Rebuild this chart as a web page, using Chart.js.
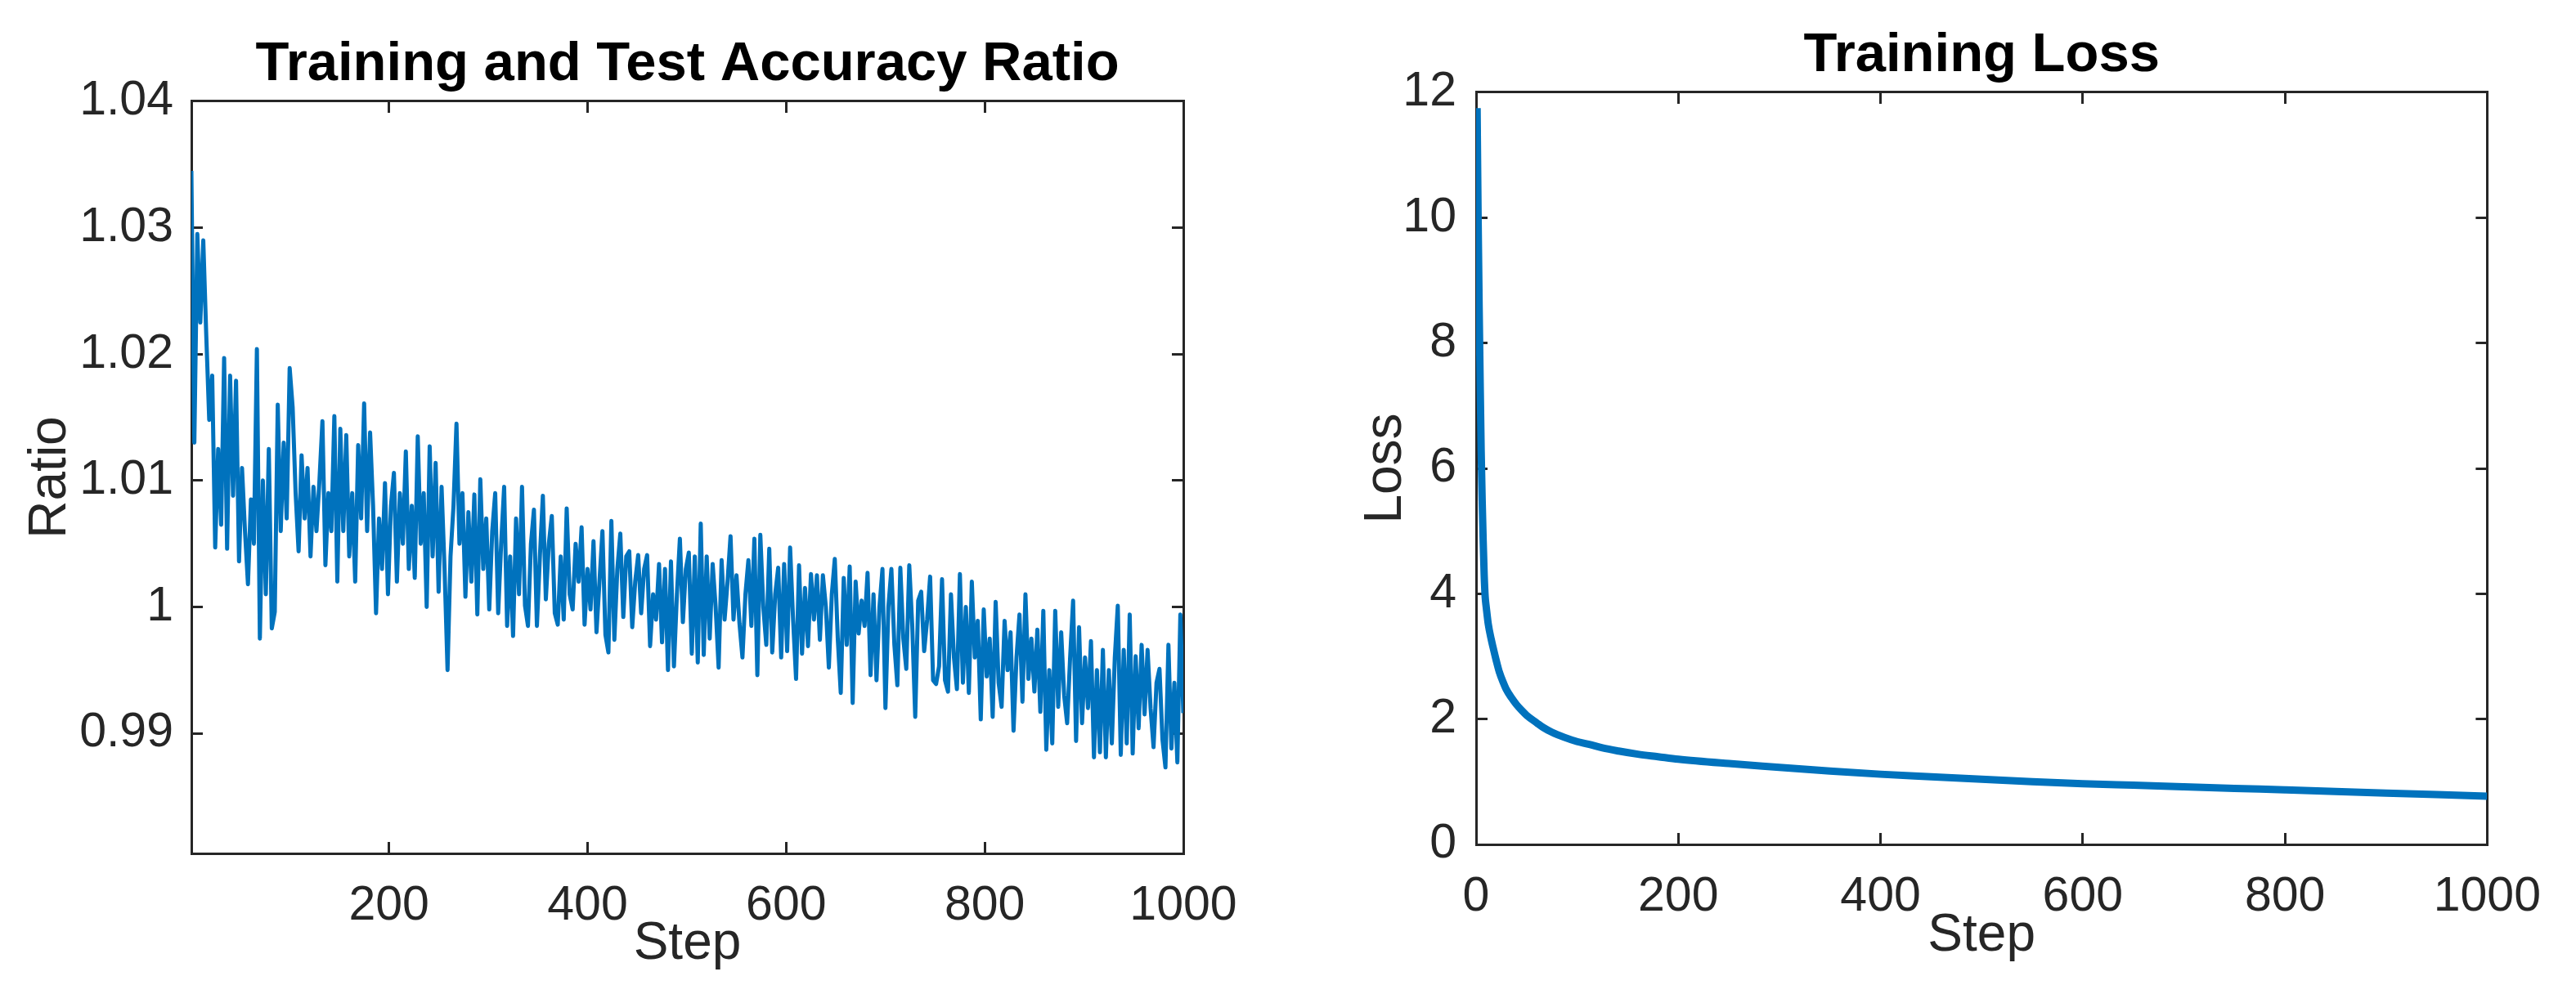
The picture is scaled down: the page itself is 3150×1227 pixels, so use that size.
<!DOCTYPE html>
<html>
<head>
<meta charset="utf-8">
<title>Training and Test Accuracy Ratio / Training Loss</title>
<script src="https://cdn.jsdelivr.net/npm/chart.js@4.4.1/dist/chart.umd.min.js"></script>
<style>
  html, body { margin: 0; padding: 0; background: #fff; }
  #wrap { position: relative; width: 3150px; height: 1227px; }
  canvas { position: absolute; top: 0; }
  #ratioChart { left: 0; }
  #lossChart { left: 1575px; }
</style>
</head>
<body>
<div id="wrap">
  <canvas id="ratioChart" width="1575" height="1227"></canvas>
  <canvas id="lossChart" width="1575" height="1227"></canvas>
</div>
<script>
const FONT = "'Liberation Sans', Arial, Helvetica, sans-serif";
const AXIS_COLOR = '#262626';
const LINE_COLOR = '#0072BD';

const ratioSteps = [
  1, 4, 7, 10, 13, 16, 19, 22, 25, 28,
  31, 34, 37, 40, 43, 46, 49, 52, 55, 58,
  61, 64, 67, 70, 73, 76, 79, 82, 85, 88,
  91, 94, 97, 100, 103, 106, 109, 112, 115, 118,
  121, 124, 127, 130, 133, 136, 139, 142, 145, 148,
  151, 154, 157, 160, 163, 166, 169, 172, 175, 178,
  181, 184, 187, 190, 193, 196, 199, 202, 205, 208,
  211, 214, 217, 220, 223, 226, 229, 232, 235, 238,
  241, 244, 247, 250, 253, 256, 259, 262, 265, 268,
  271, 274, 277, 280, 283, 286, 289, 292, 295, 298,
  301, 304, 307, 310, 313, 316, 319, 322, 325, 328,
  331, 334, 337, 340, 343, 346, 349, 352, 355, 358,
  361, 364, 367, 370, 373, 376, 379, 382, 385, 388,
  391, 394, 397, 400, 403, 406, 409, 412, 415, 418,
  421, 424, 427, 430, 433, 436, 439, 442, 445, 448,
  451, 454, 457, 460, 463, 466, 469, 472, 475, 478,
  481, 484, 487, 490, 493, 496, 499, 502, 505, 508,
  511, 514, 517, 520, 523, 526, 529, 532, 535, 538,
  541, 544, 547, 550, 553, 556, 559, 562, 565, 568,
  571, 574, 577, 580, 583, 586, 589, 592, 595, 598,
  601, 604, 607, 610, 613, 616, 619, 622, 625, 628,
  631, 634, 637, 640, 643, 646, 649, 652, 655, 658,
  661, 664, 667, 670, 673, 676, 679, 682, 685, 688,
  691, 694, 697, 700, 703, 706, 709, 712, 715, 718,
  721, 724, 727, 730, 733, 736, 739, 742, 745, 748,
  751, 754, 757, 760, 763, 766, 769, 772, 775, 778,
  781, 784, 787, 790, 793, 796, 799, 802, 805, 808,
  811, 814, 817, 820, 823, 826, 829, 832, 835, 838,
  841, 844, 847, 850, 853, 856, 859, 862, 865, 868,
  871, 874, 877, 880, 883, 886, 889, 892, 895, 898,
  901, 904, 907, 910, 913, 916, 919, 922, 925, 928,
  931, 934, 937, 940, 943, 946, 949, 952, 955, 958,
  961, 964, 967, 970, 973, 976, 979, 982, 985, 988,
  991, 994, 997, 1000
];
const ratioValues = [
  1.0345, 1.0130, 1.0295, 1.0225, 1.0290, 1.0215, 1.0148, 1.0183, 1.0047, 1.0125,
  1.0065, 1.0197, 1.0046, 1.0183, 1.0088, 1.0179, 1.0036, 1.0110, 1.0060, 1.0018,
  1.0085, 1.0050, 1.0204, 0.9975, 1.0100, 1.0010, 1.0125, 0.9983, 0.9996, 1.0160,
  1.0060, 1.0130, 1.0070, 1.0189, 1.0158, 1.0090, 1.0044, 1.0120, 1.0070, 1.0110,
  1.0040, 1.0095, 1.0060, 1.0100, 1.0147, 1.0033, 1.0090, 1.0060, 1.0151, 1.0020,
  1.0141, 1.0060, 1.0136, 1.0040, 1.0090, 1.0020, 1.0128, 1.0070, 1.0161, 1.0060,
  1.0138, 1.0080, 0.9995, 1.0070, 1.0030, 1.0098, 1.0010, 1.0080, 1.0106, 1.0020,
  1.0090, 1.0050, 1.0123, 1.0030, 1.0080, 1.0023, 1.0135, 1.0050, 1.0090, 1.0000,
  1.0127, 1.0040, 1.0114, 1.0012, 1.0095, 1.0030, 0.9950, 1.0040, 1.0080, 1.0145,
  1.0050, 1.0090, 1.0008, 1.0075, 1.0020, 1.0089, 0.9994, 1.0101, 1.0030, 1.0070,
  0.9998, 1.0060, 1.0090, 0.9995, 1.0050, 1.0095, 0.9985, 1.0040, 0.9977, 1.0070,
  1.0010, 1.0095, 1.0001, 0.9985, 1.0050, 1.0077, 0.9985, 1.0040, 1.0088, 1.0006,
  1.0050, 1.0072, 0.9995, 0.9986, 1.0040, 0.9990, 1.0078, 1.0010, 0.9998, 1.0050,
  1.0020, 1.0063, 0.9986, 1.0030, 0.9998, 1.0052, 0.9980, 1.0020, 1.0060, 0.9978,
  0.9964, 1.0068, 0.9974, 1.0030, 1.0058, 0.9992, 1.0040, 1.0044, 0.9984, 1.0020,
  1.0041, 0.9995, 1.0030, 1.0041, 0.9969, 1.0010, 0.9990, 1.0034, 0.9972, 1.0030,
  0.9950, 1.0036, 0.9953, 1.0010, 1.0054, 0.9988, 1.0030, 1.0043, 0.9963, 1.0040,
  0.9956, 1.0066, 0.9962, 1.0040, 0.9975, 1.0034, 1.0000, 0.9952, 1.0037, 0.9990,
  1.0020, 1.0056, 0.9990, 1.0025, 0.9987, 0.9960, 1.0010, 1.0037, 0.9985, 1.0054,
  0.9946, 1.0057, 1.0000, 0.9970, 1.0046, 0.9964, 1.0010, 1.0031, 0.9960, 1.0034,
  0.9965, 1.0047, 0.9990, 0.9943, 1.0033, 0.9963, 1.0015, 0.9969, 1.0026, 0.9990,
  1.0025, 0.9974, 1.0025, 1.0000, 0.9952, 1.0010, 1.0038, 0.9975, 0.9932, 1.0023,
  0.9970, 1.0032, 0.9924, 1.0020, 0.9979, 1.0005, 0.9985, 1.0027, 0.9946, 1.0010,
  0.9942, 1.0000, 1.0030, 0.9920, 1.0000, 1.0030, 0.9970, 0.9938, 1.0031, 0.9975,
  0.9951, 1.0033, 0.9985, 0.9913, 1.0005, 1.0012, 0.9965, 0.9990, 1.0024, 0.9942,
  0.9939, 0.9953, 1.0022, 0.9942, 0.9933, 1.0010, 0.9960, 0.9935, 1.0026, 0.9940,
  1.0000, 0.9932, 1.0020, 0.9960, 0.9989, 0.9911, 0.9998, 0.9945, 0.9975, 0.9913,
  1.0004, 0.9940, 0.9921, 0.9989, 0.9950, 0.9980, 0.9902, 0.9960, 0.9994, 0.9925,
  1.0010, 0.9943, 0.9975, 0.9933, 0.9982, 0.9917, 0.9997, 0.9887, 0.9950, 0.9892,
  0.9997, 0.9921, 0.9980, 0.9930, 0.9908, 0.9960, 1.0005, 0.9894, 0.9984, 0.9908,
  0.9960, 0.9920, 0.9973, 0.9881, 0.9950, 0.9885, 0.9966, 0.9881, 0.9950, 0.9892,
  0.9960, 1.0001, 0.9883, 0.9966, 0.9892, 0.9994, 0.9884, 0.9961, 0.9904, 0.9970,
  0.9915, 0.9966, 0.9920, 0.9889, 0.9940, 0.9951, 0.9895, 0.9873, 0.9970, 0.9888,
  0.9940, 0.9877, 0.9994, 0.9916
];
const ratioXTicks = [200, 400, 600, 800, 1000];
const ratioXLabels = ['200', '400', '600', '800', '1000'];
const ratioYTicks = [0.99, 1.00, 1.01, 1.02, 1.03, 1.04];
const ratioYLabels = ['0.99', '1', '1.01', '1.02', '1.03', '1.04'];

// training loss, denser where it falls fast
const lossSteps = [
  1, 2, 3, 4, 5, 6, 7, 8, 9, 10, 11, 12, 15, 17, 20, 23, 27, 30, 35, 40, 45,
  50, 60, 66, 75, 87, 100, 111, 125, 141, 160, 180, 200, 250, 300, 350, 400,
  450, 500, 550, 600, 650, 700, 750, 800, 850, 900, 950, 1000
];
const lossValues = [
  11.75, 10.0, 8.6, 7.4, 6.3, 5.5, 4.85, 4.3, 3.95, 3.79, 3.65, 3.52, 3.27, 3.13, 2.93, 2.75, 2.58, 2.47, 2.34, 2.23, 2.14,
  2.06, 1.94, 1.87, 1.79, 1.71, 1.64, 1.60, 1.54, 1.49, 1.44, 1.40, 1.36, 1.29, 1.23, 1.17, 1.12,
  1.08, 1.04, 1.00, 0.97, 0.945, 0.92, 0.895, 0.87, 0.845, 0.82, 0.795, 0.77
];
const lossXTicks = [0, 200, 400, 600, 800, 1000];
const lossXLabels = ['0', '200', '400', '600', '800', '1000'];
const lossYTicks = [0, 2, 4, 6, 8, 10, 12];
const lossYLabels = ['0', '2', '4', '6', '8', '10', '12'];

function fixedTicks(values) {
  return scale => { scale.ticks = values.map(v => ({ value: v })); };
}

// MATLAB style box: inward ticks on all four sides, labels only bottom/left
function boxScales(c) {
  const grid = { drawOnChartArea: false, drawTicks: true, tickLength: -14, tickWidth: 3, tickColor: AXIS_COLOR };
  const border = { display: true, color: AXIS_COLOR, width: 3 };
  const tickFont = { family: FONT, size: 59 };
  const titleFont = { family: FONT, size: 64 };
  const hidden = { display: false };
  return {
    x: {
      type: 'linear', position: 'bottom', bounds: 'data', min: c.xMin, max: c.xMax,
      afterBuildTicks: fixedTicks(c.xTicks),
      afterFit: s => { s.height = c.xHeight; },
      grid: grid, border: border,
      ticks: { font: tickFont, color: AXIS_COLOR, padding: 43, maxRotation: 0, autoSkip: false,
               callback: (v, i) => c.xLabels[i] },
      title: { display: true, text: 'Step', font: titleFont, color: AXIS_COLOR,
               padding: { top: 0, bottom: c.xTitlePad } }
    },
    x2: {
      type: 'linear', position: 'top', bounds: 'data', min: c.xMin, max: c.xMax,
      afterBuildTicks: fixedTicks(c.xTicks),
      afterFit: s => { s.height = c.topHeight; },
      grid: grid, border: border, ticks: hidden
    },
    y: {
      type: 'linear', position: 'left', bounds: 'data', min: c.yMin, max: c.yMax,
      afterBuildTicks: fixedTicks(c.yTicks),
      afterFit: s => { s.width = c.yWidth; },
      grid: grid, border: border,
      ticks: { font: tickFont, color: AXIS_COLOR, padding: c.yTickPad, autoSkip: false,
               callback: (v, i) => c.yLabels[i] },
      title: { display: true, text: c.yTitle, font: titleFont, color: AXIS_COLOR,
               padding: { top: c.yTitlePad, bottom: 0 } }
    },
    y2: {
      type: 'linear', position: 'right', bounds: 'data', min: c.yMin, max: c.yMax,
      afterBuildTicks: fixedTicks(c.yTicks),
      afterFit: s => { s.width = 0; },
      grid: grid, border: border, ticks: hidden
    }
  };
}

function makeChart(id, c) {
  return new Chart(document.getElementById(id), {
    type: 'line',
    data: {
      datasets: [{
        data: c.steps.map((s, i) => ({ x: s, y: c.values[i] })),
        borderColor: LINE_COLOR,
        borderWidth: c.lineWidth,
        borderJoinStyle: 'round',
        pointRadius: 0,
        fill: false,
        tension: 0,
        cubicInterpolationMode: c.smooth ? 'monotone' : 'default'
      }]
    },
    options: {
      responsive: false,
      devicePixelRatio: 1,
      animation: false,
      events: [],
      layout: { padding: { left: 0, right: c.rightPad, top: 0, bottom: 0 } },
      plugins: {
        legend: { display: false },
        tooltip: { enabled: false },
        title: {
          display: true, text: c.title, color: '#000', fullSize: false,
          font: { family: FONT, size: 67, weight: 'bold' },
          padding: { top: c.titleTop, bottom: 0 }
        }
      },
      scales: boxScales(c)
    }
  });
}

makeChart('ratioChart', {
  title: 'Training and Test Accuracy Ratio',
  steps: ratioSteps, values: ratioValues, lineWidth: 5, smooth: false,
  xMin: 1, xMax: 1000, xTicks: ratioXTicks, xLabels: ratioXLabels,
  yMin: 0.9805, yMax: 1.04, yTicks: ratioYTicks, yLabels: ratioYLabels, yTitle: 'Ratio',
  xHeight: 183, xTitlePad: 33.6, topHeight: 4.2, titleTop: 39.4,
  yWidth: 234, yTickPad: 36, yTitlePad: 23.6, rightPad: 128
});

makeChart('lossChart', {
  title: 'Training Loss',
  steps: lossSteps, values: lossValues, lineWidth: 9, smooth: true,
  xMin: 0, xMax: 1000, xTicks: lossXTicks, xLabels: lossXLabels,
  yMin: 0, yMax: 12, yTicks: lossYTicks, yLabels: lossYLabels, yTitle: 'Loss',
  xHeight: 194, xTitlePad: 43.6, topHeight: 4.2, titleTop: 28.4,
  yWidth: 230, yTickPad: 38, yTitlePad: 81.6, rightPad: 93
});
</script>
</body>
</html>
